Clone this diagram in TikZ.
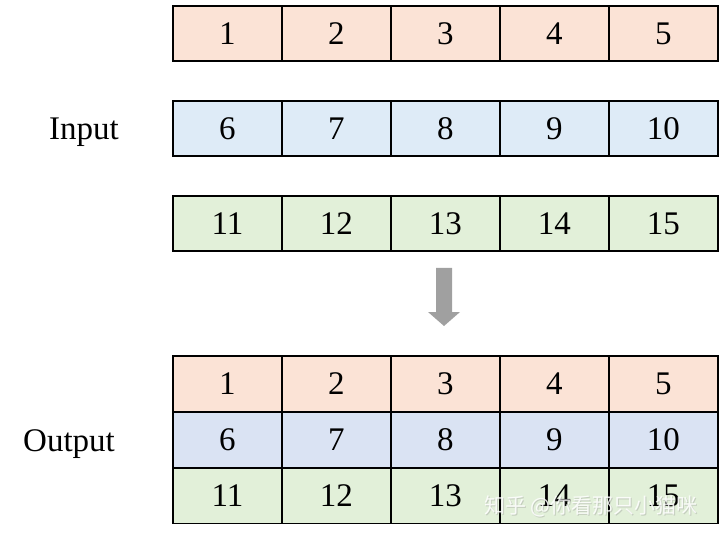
\documentclass[tikz,border=0pt]{standalone}
\usepackage{fontspec}
\setmainfont{Liberation Serif}
\newfontfamily\cjk{Noto Sans CJK SC}
\begin{document}
\begin{tikzpicture}[x=1pt,y=-1pt,
  cell/.style={draw=black,line width=1.8pt,minimum width=109pt,minimum height=55.5pt,inner sep=0pt,anchor=north west,text height=22pt,text depth=0pt,font=\fontsize{33}{36}\selectfont},
  rowA/.style={cell,fill=peach},
  rowB/.style={cell,fill=lblue},
  rowC/.style={cell,fill=lgreen},
  rowBo/.style={cell,fill=lblueo},
  lbl/.style={font=\fontsize{33}{36}\selectfont,inner sep=0pt,anchor=base west}]
\definecolor{peach}{HTML}{FBE3D6}
\definecolor{lblue}{HTML}{DEEBF7}
\definecolor{lblueo}{HTML}{DAE3F3}
\definecolor{lgreen}{HTML}{E2F0D9}
\definecolor{arrgray}{HTML}{A0A0A0}
\useasboundingbox (0,0) rectangle (720,537);
% input rows
\foreach \i in {1,...,5}{
  \node[rowA] (a\i) at ({172+109*(\i-1)},5) {\i};
  \pgfmathtruncatemacro\j{\i+5}
  \node[rowB] (b\i) at ({172+109*(\i-1)},100) {\j};
  \pgfmathtruncatemacro\k{\i+10}
  \node[rowC] (c\i) at ({172+109*(\i-1)},195) {\k};
}
% output rows
\foreach \i in {1,...,5}{
  \node[rowA] (oa\i) at ({172+109*(\i-1)},355) {\i};
  \pgfmathtruncatemacro\j{\i+5}
  \node[rowBo] (ob\i) at ({172+109*(\i-1)},411) {\j};
  \pgfmathtruncatemacro\k{\i+10}
  \node[rowC] (oc\i) at ({172+109*(\i-1)},467) {\k};
}
\node[lbl] (inp) at (49,140) {Input};
\node[lbl] (outp) at (23,451) {Output};
% arrow
\fill[arrgray] (436,268) -- (452,268) -- (452,312) -- (460,312) -- (444,326) -- (428,312) -- (436,312) -- cycle;
% watermark
\node[font=\cjk\fontsize{21}{24}\selectfont,text=gray,opacity=0.3,inner sep=0pt] (wm2) at (592,507) {知乎 @你看那只小猫咪};
\node[font=\cjk\fontsize{21}{24}\selectfont,text=white,opacity=0.85,inner sep=0pt] (wm) at (591,506) {知乎 @你看那只小猫咪};
\end{tikzpicture}
\end{document}
